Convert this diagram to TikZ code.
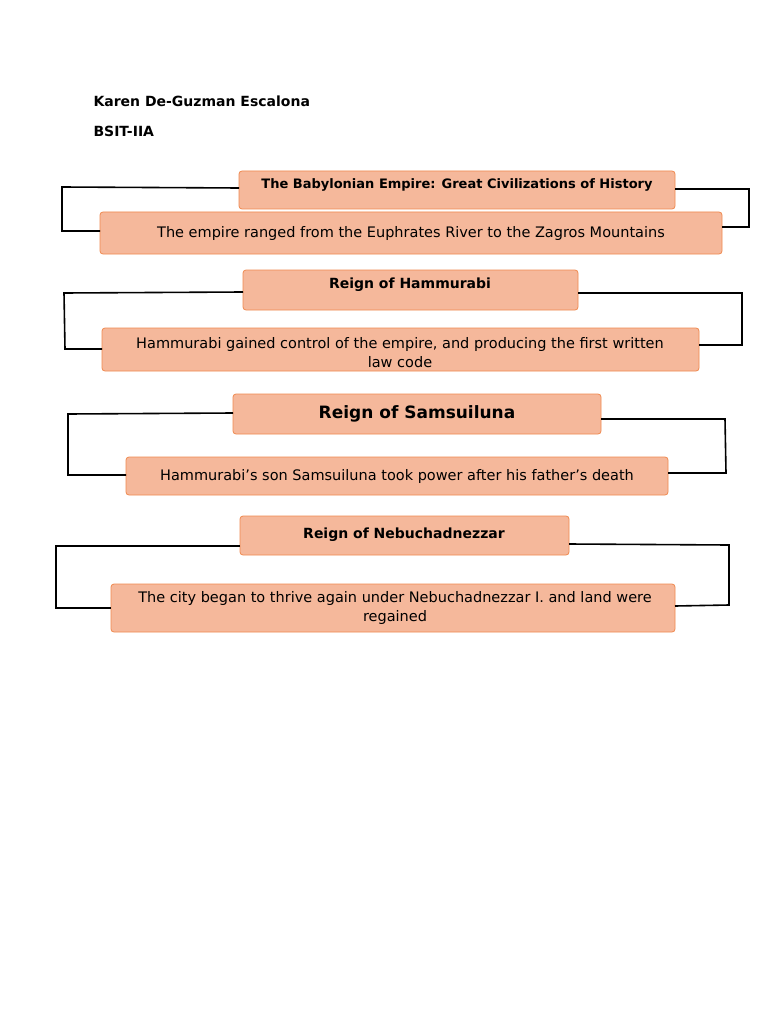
\documentclass[tikz,border=0pt]{standalone}
\usepackage{fontspec}
\setmainfont{DejaVu Sans}
\definecolor{boxfill}{HTML}{F5B89B}
\definecolor{boxline}{HTML}{F08A50}
\begin{document}
\begin{tikzpicture}[x=1pt,y=-1pt,
  box/.style={draw=boxline,fill=boxfill,rounded corners=3pt,line width=0.8pt},
  conn/.style={draw=black,line width=1.6pt}]
\useasboundingbox (0,0) rectangle (768,1024);
\fill[white] (0,0) rectangle (768,1024);
\node[anchor=west,font=\bfseries\fontsize{14}{16}\selectfont] (name) at (90,101) {Karen De-Guzman Escalona};
\node[anchor=west,font=\bfseries\fontsize{14}{16}\selectfont] (cls) at (90,131) {BSIT-IIA};
% boxes
\draw[box] (239,171) rectangle (675,209); \coordinate (b1l) at (239,188); \coordinate (b1r) at (675,189);
\node[font=\bfseries\fontsize{13}{15}\selectfont] (t1) at (457,185) {The Babylonian Empire: Great Civilizations of History};
\draw[box] (100,212) rectangle (722,254); \coordinate (b2l) at (100,231); \coordinate (b2r) at (722,227);
\node[font=\fontsize{14.5}{17}\selectfont] (t2) at (411,233) {The empire ranged from the Euphrates River to the Zagros Mountains};
\draw[box] (243,270) rectangle (578,310); \coordinate (b3l) at (243,292); \coordinate (b3r) at (578,293);
\node[font=\bfseries\fontsize{14}{16}\selectfont] (t3) at (410,285) {Reign of Hammurabi};
\draw[box] (102,328) rectangle (699,371); \coordinate (b4l) at (102,349); \coordinate (b4r) at (699,345);
\begin{scope}
\clip (102,328) rectangle (699,368);
\node[font=\fontsize{14.5}{19}\selectfont,align=center,anchor=north] (t4) at (400,334) {Hammurabi gained control of the empire, and producing the first written\\law code};
\end{scope}
\draw[box] (233,394) rectangle (601,434); \coordinate (b5l) at (233,413); \coordinate (b5r) at (601,419);
\node[font=\bfseries\fontsize{17}{20}\selectfont] (t5) at (417,414) {Reign of Samsuiluna};
\draw[box] (126,457) rectangle (668,495); \coordinate (b6l) at (126,475); \coordinate (b6r) at (668,473);
\node[font=\fontsize{14.5}{17}\selectfont] (t6) at (397,476) {Hammurabi’s son Samsuiluna took power after his father’s death};
\draw[box] (240,516) rectangle (569,555); \coordinate (b7l) at (240,546); \coordinate (b7r) at (569,544);
\node[font=\bfseries\fontsize{14}{16}\selectfont] (t7) at (404,535) {Reign of Nebuchadnezzar};
\draw[box] (111,584) rectangle (675,632); \coordinate (b8l) at (111,608); \coordinate (b8r) at (675,606);
\node[font=\fontsize{14.5}{19}\selectfont,align=center] (t8) at (395,608) {The city began to thrive again under Nebuchadnezzar I. and land were\\regained};
% connectors
\draw[conn] (b1l) -- (62,187) -- (62,231) -- (b2l);
\draw[conn] (b1r) -- (749,189) -- (749,227) -- (b2r);
\draw[conn] (b3l) -- (64,293) -- (65,349) -- (b4l);
\draw[conn] (b3r) -- (742,293) -- (742,345) -- (b4r);
\draw[conn] (b5l) -- (68,414) -- (68,475) -- (b6l);
\draw[conn] (b5r) -- (725,419) -- (726,473) -- (b6r);
\draw[conn] (b7l) -- (56,546) -- (56,608) -- (b8l);
\draw[conn] (b7r) -- (729,545) -- (729,605) -- (b8r);
\end{tikzpicture}
\end{document}
